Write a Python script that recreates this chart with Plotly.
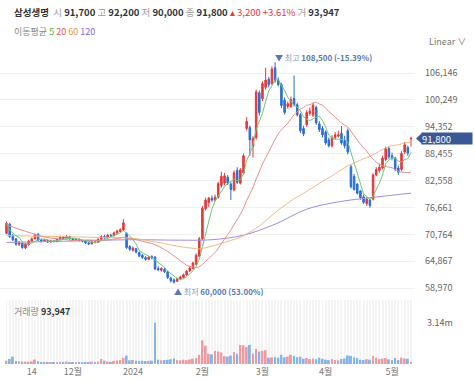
import plotly.graph_objects as go
import pandas as pd

# ---------------- data ----------------
opens = [71000, 73000, 70500, 69800, 68600, 68800, 67800, 68500, 69300, 69800,
         70800, 69500, 69300, 69400, 69100, 69300, 69200, 69700, 70200, 69900,
         70300, 69800, 69500, 69700, 69400, 69300, 68900, 68700, 69100, 69000,
         69700, 70300, 70000, 70600, 70500, 71100, 71400, 71700, 71000, 68100,
         67300, 67600, 66800, 66200, 65700, 65300, 65900, 65800, 63300, 62900,
         63100, 62600, 61200, 60800, 60500, 61000, 61300, 61900, 62800, 63300,
         64200, 66000, 69800, 76400, 77800, 78700, 78300, 78900, 81500, 82000,
         83300, 81800, 80500, 84800, 82000, 84200, 94000, 94200, 90000, 92000,
         101800, 100500, 103000, 104800, 103800, 107300, 104500, 103600, 100200, 98800,
         98800, 100600, 99200, 97000, 94000, 94800, 97300, 96900, 98600, 95000,
         94000, 93200, 91500, 90200, 92000, 92300, 92900, 91300, 93500, 85600,
         83500, 81800, 80300, 79000, 77500, 78300, 78500, 83800, 84800, 85300,
         87200, 89600, 88000, 87500, 85300, 85000, 88800, 89800, 91700]
highs = [73600, 73300, 70900, 70000, 69300, 69000, 68900, 69600, 70100, 71000,
         71100, 69900, 69800, 69700, 69600, 69500, 70000, 70500, 70400, 70600,
         70500, 70000, 69900, 69900, 69600, 69500, 69100, 69300, 69300, 69900,
         70600, 70700, 70900, 70900, 71400, 71800, 72100, 74100, 71200, 68400,
         68100, 67800, 67000, 66500, 66000, 66100, 66200, 66000, 63800, 63600,
         63400, 62800, 61500, 61100, 61300, 61700, 62200, 63000, 63800, 64800,
         66600, 70200, 77000, 78800, 79000, 79300, 79500, 82300, 84500, 84200,
         83800, 82200, 84800, 85500, 85300, 88500, 96500, 94600, 92300, 102500,
         102300, 104300, 107300, 105300, 107600, 108500, 105200, 104000, 100800, 99900,
         101000, 105600, 99600, 97400, 94600, 98000, 98600, 99600, 99000, 95600,
         94500, 93600, 92000, 92500, 93200, 93500, 94500, 92400, 94000, 86000,
         84000, 82000, 80500, 79500, 79000, 78600, 84200, 85500, 86300, 88000,
         90000, 90000, 88700, 87800, 85800, 89000, 91000, 90200, 92200]
lows = [70800, 70000, 69300, 68300, 68200, 67600, 67500, 68300, 69000, 69600,
        69300, 69000, 69100, 68900, 68900, 69000, 69000, 69500, 69700, 69700,
        69600, 69300, 69300, 69200, 69000, 68700, 68400, 68500, 68800, 68900,
        69500, 69800, 69900, 70200, 70300, 70900, 71200, 71500, 67600, 67100,
        67000, 66600, 65800, 65400, 65000, 65100, 65300, 62900, 62700, 62600,
        62300, 61000, 60200, 60000, 60300, 60800, 61100, 61700, 62500, 63100,
        64000, 65800, 69500, 76000, 76800, 77900, 78000, 78600, 81000, 81500,
        81600, 78300, 80200, 81800, 81700, 83800, 93500, 88000, 87600, 91500,
        96800, 100000, 102500, 103000, 103500, 104000, 103200, 98500, 97000, 98300,
        98500, 98800, 96600, 93000, 92300, 94400, 96800, 96500, 94800, 93200,
        92000, 90400, 89800, 89800, 91500, 92000, 90400, 89600, 88300, 80800,
        80400, 79500, 78400, 77400, 77000, 76600, 78200, 83500, 84300, 85000,
        86800, 87300, 87000, 84600, 83800, 84600, 88400, 88000, 90000]
closes = [73200, 70300, 69600, 68600, 68900, 67900, 68600, 69300, 69800, 70600,
          69500, 69300, 69500, 69100, 69300, 69200, 69700, 70200, 69900, 70300,
          69800, 69500, 69700, 69400, 69300, 68900, 68700, 69100, 69000, 69700,
          70300, 70000, 70600, 70500, 71100, 71500, 71800, 73300, 67900, 67500,
          67800, 66900, 66000, 65700, 65300, 65800, 65600, 63200, 63000, 63300,
          62600, 61300, 60600, 60300, 61000, 61400, 61900, 62700, 63400, 64500,
          66200, 69800, 76500, 78300, 78700, 78300, 78900, 81900, 83500, 83600,
          82000, 80600, 84300, 82200, 84900, 88000, 95500, 91500, 91800, 102000,
          97500, 103800, 104600, 103600, 107000, 104500, 103600, 99000, 97500, 99400,
          100300, 99200, 97000, 93500, 92800, 97500, 97800, 99100, 95200, 93700,
          92600, 90800, 90200, 92000, 92600, 92600, 90800, 90200, 88800, 81200,
          80600, 79800, 78800, 77800, 78500, 77100, 83800, 85000, 85500, 87500,
          89500, 87800, 87500, 85000, 84400, 88500, 90400, 88600, 91800]
volumes = [250000, 380000, 560000, 230000, 200000, 190000, 180000, 170000, 200000, 330000,
           220000, 150000, 160000, 140000, 130000, 150000, 140000, 170000, 150000, 190000,
           140000, 130000, 150000, 140000, 150000, 160000, 140000, 180000, 160000, 170000,
           380000, 250000, 180000, 170000, 230000, 260000, 300000, 480000, 640000, 280000,
           300000, 250000, 220000, 250000, 230000, 240000, 260000, 3140000, 330000, 280000,
           300000, 320000, 360000, 420000, 300000, 280000, 330000, 290000, 340000, 400000,
           450000, 700000, 1800000, 1400000, 780000, 730000, 1000000, 950000, 880000, 600000,
           560000, 640000, 900000, 780000, 1450000, 1420000, 1300000, 1450000, 800000, 1150000,
           950000, 1000000, 1050000, 480000, 500000, 520000, 480000, 700000, 520000, 560000,
           700000, 620000, 520000, 560000, 400000, 460000, 380000, 420000, 360000, 480000,
           400000, 330000, 300000, 380000, 300000, 280000, 380000, 420000, 650000, 620000,
           500000, 450000, 330000, 300000, 360000, 330000, 600000, 480000, 380000, 420000,
           450000, 350000, 300000, 450000, 300000, 480000, 420000, 400000, 93947]

# x-axis ticks (candle index -> label)
tick_idx = [8, 21, 40, 62, 81, 101, 122]
tick_text = ["14", "12월", "2024", "2월", "3월", "4월", "5월"]

# right price-axis ticks
price_ticks = [58970, 64867, 70764, 76661, 82558, 88455, 94352, 100249, 106146]

ma20_lead_idx = [0, 4, 8, 12, 16]
ma20_lead_val = [72800, 71900, 71000, 70200, 69800]
ma60_lead_idx = [0, 15, 30, 40, 48, 54, 58]
ma60_lead_val = [70500, 70300, 70100, 69900, 69000, 68200, 67800]
ma120_idx = [0, 20, 40, 55, 65, 75, 85, 95, 105, 115, 128]
ma120_val = [69000, 69300, 69600, 69500, 69600, 70600, 73000, 76300, 77900, 78800, 79800]

stock_name = "삼성생명"

# ---------------- styling ----------------
RED = "#e5383b"
BLUE = "#2b6fd3"
VRED = "#ee9aa0"
VBLUE = "#85b4ea"
C5, C20, C60, C120 = "#72c776", "#ea8c8c", "#f1b985", "#a08ddf"
FONT = "Noto Sans CJK KR"
W, H = 474, 382
PLOT_R = 415  # right edge of plot area in px

n = len(closes)
xs = list(range(n))
cs = pd.Series(closes, dtype=float)

ma5 = cs.rolling(5, min_periods=1).mean()
ma20 = cs.rolling(20).mean()
ma60 = cs.rolling(60).mean()

ma20_x = ma20_lead_idx + xs[19:]
ma20_y = ma20_lead_val + list(ma20[19:])
ma60_x = ma60_lead_idx + xs[59:]
ma60_y = ma60_lead_val + list(ma60[59:])


def py(p):  # paper-y from pixel-y
    return (H - p) / H


def px(p):  # paper-x from pixel-x
    return p / PLOT_R


fig = go.Figure()

# volume stripes (background per candle)
vol_top = 4.87e6
fig.add_trace(go.Bar(x=xs, y=[vol_top] * n, width=0.3, marker_color="#f4f4f4",
                     marker_line_width=0, yaxis="y2", hoverinfo="skip", showlegend=False))
vcolors = [VRED if c >= o else VBLUE for o, c in zip(opens, closes)]
fig.add_trace(go.Bar(x=xs, y=volumes, width=0.62, marker_color=vcolors,
                     marker_line_width=0, yaxis="y2", hoverinfo="skip", showlegend=False))

# moving averages
fig.add_trace(go.Scatter(x=ma120_idx, y=ma120_val, mode="lines", line=dict(color=C120, width=1, shape="spline"),
                         hoverinfo="skip", showlegend=False))
fig.add_trace(go.Scatter(x=ma60_x, y=ma60_y, mode="lines", line=dict(color=C60, width=1, shape="spline"),
                         hoverinfo="skip", showlegend=False))
fig.add_trace(go.Scatter(x=ma20_x, y=ma20_y, mode="lines", line=dict(color=C20, width=1, shape="spline"),
                         hoverinfo="skip", showlegend=False))
fig.add_trace(go.Scatter(x=xs, y=list(ma5), mode="lines", line=dict(color=C5, width=1),
                         hoverinfo="skip", showlegend=False))

# candles
fig.add_trace(go.Candlestick(
    x=xs, open=opens, high=highs, low=lows, close=closes,
    increasing=dict(line=dict(color=RED, width=1), fillcolor=RED),
    decreasing=dict(line=dict(color=BLUE, width=1), fillcolor=BLUE),
    whiskerwidth=0, hoverinfo="skip", showlegend=False))

last_c, prev_c = closes[-1], closes[-2]
chg = last_c - prev_c
pct = chg / prev_c * 100
hi = max(highs)
hi_i = highs.index(hi)
lo = min(lows)
lo_i = lows.index(lo)

G = "color:#9a9a9a"
header = (f"<b>{stock_name}</b>  <span style='{G}'>시</span> <b>{opens[-1]:,}</b> "
          f"<span style='{G}'>고</span> <b>{highs[-1]:,}</b> "
          f"<span style='{G}'>저</span> <b>{lows[-1]:,}</b> "
          f"<span style='{G}'>종</span> <b>{last_c:,}</b> "
          f"<span style='color:{RED}'>▴ {chg:,} +{pct:.2f}%</span> "
          f"<span style='{G}'>거</span> <b>{volumes[-1]:,}</b>")
legend_txt = (f"<span style='color:#888'>이동평균</span> <span style='color:#4fae3a'>5</span> "
              f"<span style='color:#e45b5b'>20</span> <span style='color:#e8954c'>60</span> "
              f"<span style='color:#7d6cd8'>120</span>")

annos = [
    dict(text=header, x=px(12), y=py(12), xref="paper", yref="paper", xanchor="left", yanchor="middle",
         showarrow=False, font=dict(size=9.5, color="#333", family=FONT)),
    dict(text=legend_txt, x=px(12), y=py(32), xref="paper", yref="paper", xanchor="left", yanchor="middle",
         showarrow=False, font=dict(size=9, color="#888", family=FONT)),
    dict(text="Linear ∨", x=px(468), y=py(42), xref="paper", yref="paper", xanchor="right", yanchor="middle",
         showarrow=False, font=dict(size=9, color="#777", family=FONT)),
    dict(text=f"<span style='color:#888'>거래량</span> <b>{volumes[-1]:,}</b>", x=px(12), y=py(311),
         xref="paper", yref="paper", xanchor="left", yanchor="middle",
         showarrow=False, font=dict(size=9, color="#333", family=FONT)),
    dict(text=f"▼ <span style='color:#8aa0c8'>최고</span> <b>{hi:,} ({(last_c / hi - 1) * 100:.2f}%)</b>",
         x=hi_i, y=hi, xref="x", yref="y", xanchor="left", yanchor="middle", xshift=-2, yshift=5,
         showarrow=False, font=dict(size=8, color="#5b78ad", family=FONT)),
    dict(text=f"▲ <span style='color:#8aa0c8'>최저</span> <b>{lo:,} ({(last_c / lo - 1) * 100:.2f}%)</b>",
         x=lo_i, y=lo, xref="x", yref="y", xanchor="left", yanchor="middle", xshift=-2, yshift=-8,
         showarrow=False, font=dict(size=8, color="#5b78ad", family=FONT)),
    dict(text=f"{last_c:,}", x=px(421), y=last_c, xref="paper", yref="y", xanchor="left", yanchor="middle",
         showarrow=False, bgcolor="#3b5896", width=50, height=11, align="left", borderpad=0,
         font=dict(size=9.5, color="white", family=FONT)),
]

half = 5.5 * (111188 - 56826) / 248
shapes = [dict(type="path", xref="paper", yref="y",
               path=f"M {px(422)},{last_c + half} L {px(416)},{last_c} L {px(422)},{last_c - half} Z",
               fillcolor="#3b5896", line=dict(width=0))]

fig.update_layout(
    width=W, height=H, margin=dict(l=0, r=W - PLOT_R, t=0, b=0),
    paper_bgcolor="white", plot_bgcolor="white", showlegend=False, barmode="overlay",
    font=dict(family=FONT, size=9, color="#666"),
    xaxis=dict(domain=[0, 1], range=[-2.06, 129.27], anchor="free", position=py(365), showgrid=False,
               zeroline=False, tickmode="array", tickvals=tick_idx, ticktext=tick_text, ticks="",
               showline=False, rangeslider=dict(visible=False), tickfont=dict(size=9, color="#777"),
               fixedrange=True),
    yaxis=dict(domain=[py(298), py(50)], range=[56826, 111188], side="right", anchor="x",
               tickmode="array", tickvals=price_ticks, ticktext=[f"{v:,}" for v in price_ticks],
               showgrid=True, gridcolor="#f0f0f0", gridwidth=1, zeroline=False, ticks="",
               ticklabelstandoff=9, tickfont=dict(size=9, color="#666"), fixedrange=True),
    yaxis2=dict(domain=[py(364), py(300)], range=[0, vol_top], side="right", anchor="x",
                tickmode="array", tickvals=[3.14e6], ticktext=["3.14m"], showgrid=False, zeroline=False,
                ticks="", ticklabelstandoff=11, tickfont=dict(size=9, color="#666"), fixedrange=True),
    annotations=annos, shapes=shapes,
)

fig.write_html("out.html", config={"displayModeBar": False},
               post_script="document.body.style.margin='0';document.body.style.overflow='hidden';")
